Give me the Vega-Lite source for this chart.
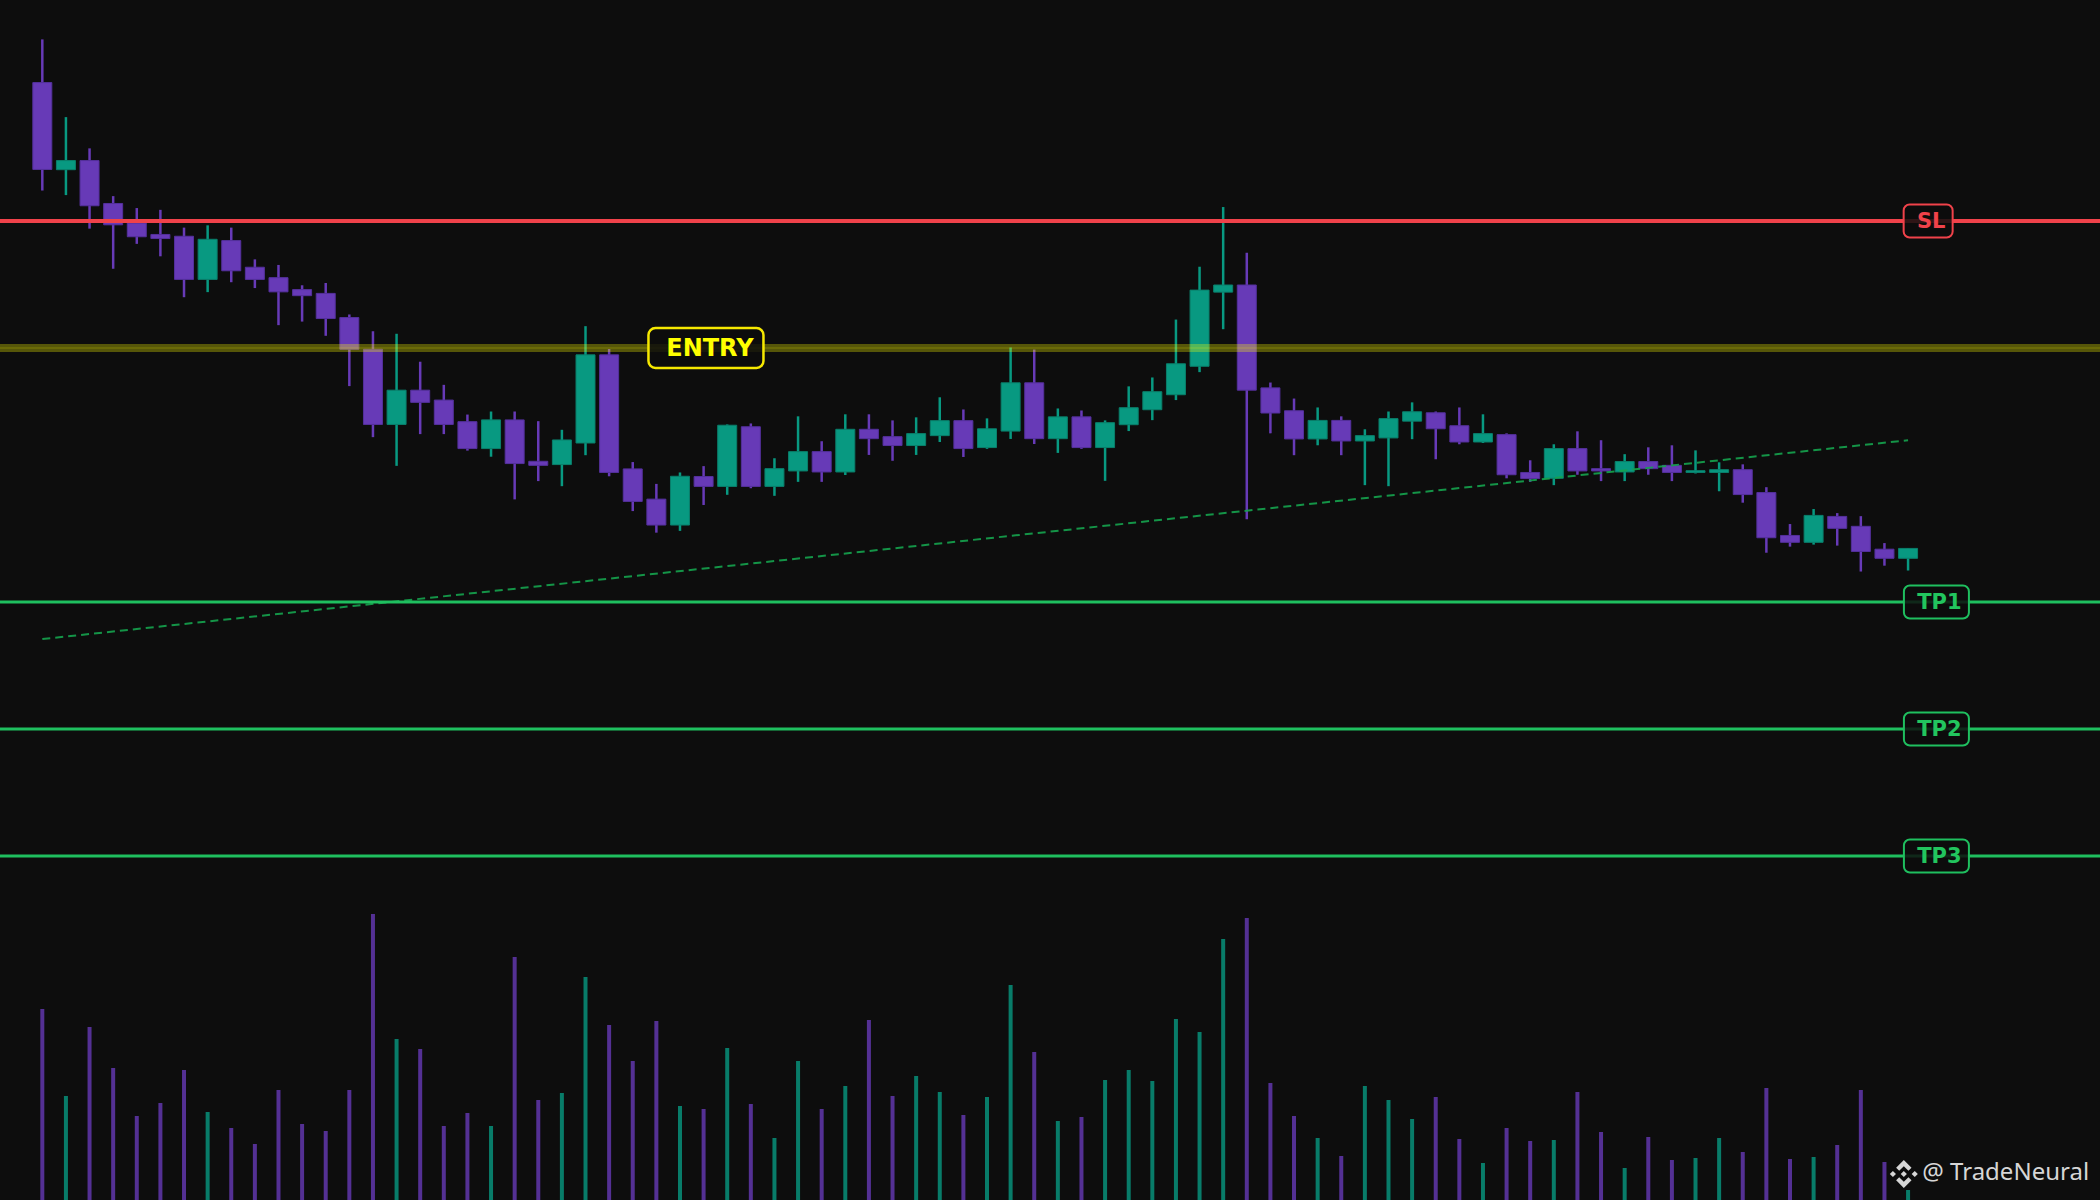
{
  "$schema": "https://vega.github.io/schema/vega-lite/v6.json",
  "width": 2100,
  "height": 1200,
  "autosize": {"type": "none"},
  "padding": 0,
  "background": "#0d0d0d",
  "config": {"view": {"stroke": null}},
  "datasets": {
    "candles": [
      {"i":0,"dir":"down","o":110.45,"h":112.15,"l":106.2,"c":107.03,"v":1910},
      {"i":1,"dir":"up","o":107.02,"h":109.09,"l":106.02,"c":107.38,"v":1040},
      {"i":2,"dir":"down","o":107.38,"h":107.86,"l":104.7,"c":105.6,"v":1730},
      {"i":3,"dir":"down","o":105.69,"h":105.98,"l":103.12,"c":104.85,"v":1320},
      {"i":4,"dir":"down","o":104.92,"h":105.51,"l":104.1,"c":104.38,"v":840},
      {"i":5,"dir":"down","o":104.47,"h":105.44,"l":103.61,"c":104.31,"v":970},
      {"i":6,"dir":"down","o":104.4,"h":104.74,"l":102.0,"c":102.7,"v":1300},
      {"i":7,"dir":"up","o":102.7,"h":104.83,"l":102.2,"c":104.28,"v":880},
      {"i":8,"dir":"down","o":104.23,"h":104.74,"l":102.59,"c":103.04,"v":720},
      {"i":9,"dir":"down","o":103.18,"h":103.49,"l":102.36,"c":102.7,"v":560},
      {"i":10,"dir":"down","o":102.77,"h":103.27,"l":100.9,"c":102.21,"v":1100},
      {"i":11,"dir":"down","o":102.3,"h":102.47,"l":101.04,"c":102.06,"v":760},
      {"i":12,"dir":"down","o":102.15,"h":102.56,"l":100.48,"c":101.16,"v":690},
      {"i":13,"dir":"down","o":101.2,"h":101.32,"l":98.5,"c":99.95,"v":1100},
      {"i":14,"dir":"down","o":99.95,"h":100.66,"l":96.49,"c":96.99,"v":2860},
      {"i":15,"dir":"up","o":96.99,"h":100.56,"l":95.36,"c":98.34,"v":1610},
      {"i":16,"dir":"down","o":98.34,"h":99.46,"l":96.61,"c":97.86,"v":1510},
      {"i":17,"dir":"down","o":97.95,"h":98.55,"l":96.61,"c":96.99,"v":740},
      {"i":18,"dir":"down","o":97.1,"h":97.38,"l":95.96,"c":96.04,"v":870},
      {"i":19,"dir":"up","o":96.04,"h":97.5,"l":95.72,"c":97.17,"v":740},
      {"i":20,"dir":"down","o":97.17,"h":97.5,"l":94.04,"c":95.45,"v":2430},
      {"i":21,"dir":"down","o":95.54,"h":97.12,"l":94.76,"c":95.38,"v":1000},
      {"i":22,"dir":"up","o":95.41,"h":96.78,"l":94.56,"c":96.38,"v":1070},
      {"i":23,"dir":"up","o":96.26,"h":100.86,"l":95.78,"c":99.73,"v":2230},
      {"i":24,"dir":"down","o":99.73,"h":99.96,"l":94.95,"c":95.1,"v":1750},
      {"i":25,"dir":"down","o":95.24,"h":95.51,"l":93.58,"c":93.96,"v":1390},
      {"i":26,"dir":"down","o":94.05,"h":94.65,"l":92.73,"c":93.03,"v":1790},
      {"i":27,"dir":"up","o":93.03,"h":95.1,"l":92.8,"c":94.95,"v":940},
      {"i":28,"dir":"down","o":94.94,"h":95.35,"l":93.82,"c":94.55,"v":910},
      {"i":29,"dir":"up","o":94.55,"h":96.99,"l":94.22,"c":96.96,"v":1520},
      {"i":30,"dir":"down","o":96.9,"h":97.03,"l":94.48,"c":94.55,"v":960},
      {"i":31,"dir":"up","o":94.55,"h":95.66,"l":94.18,"c":95.25,"v":620},
      {"i":32,"dir":"up","o":95.16,"h":97.31,"l":94.73,"c":95.92,"v":1390},
      {"i":33,"dir":"down","o":95.92,"h":96.33,"l":94.73,"c":95.12,"v":910},
      {"i":34,"dir":"up","o":95.12,"h":97.39,"l":95.0,"c":96.8,"v":1140},
      {"i":35,"dir":"down","o":96.8,"h":97.39,"l":95.79,"c":96.43,"v":1800},
      {"i":36,"dir":"down","o":96.51,"h":97.15,"l":95.56,"c":96.16,"v":1040},
      {"i":37,"dir":"up","o":96.16,"h":97.27,"l":95.79,"c":96.63,"v":1240},
      {"i":38,"dir":"up","o":96.55,"h":98.06,"l":96.3,"c":97.14,"v":1080},
      {"i":39,"dir":"down","o":97.14,"h":97.58,"l":95.71,"c":96.04,"v":850},
      {"i":40,"dir":"up","o":96.08,"h":97.23,"l":96.03,"c":96.82,"v":1030},
      {"i":41,"dir":"up","o":96.73,"h":100.02,"l":96.42,"c":98.63,"v":2150},
      {"i":42,"dir":"down","o":98.63,"h":99.94,"l":96.22,"c":96.43,"v":1480},
      {"i":43,"dir":"up","o":96.43,"h":97.62,"l":95.87,"c":97.29,"v":790},
      {"i":44,"dir":"down","o":97.29,"h":97.54,"l":96.03,"c":96.08,"v":830},
      {"i":45,"dir":"up","o":96.08,"h":97.15,"l":94.77,"c":97.06,"v":1200},
      {"i":46,"dir":"up","o":96.98,"h":98.49,"l":96.73,"c":97.65,"v":1300},
      {"i":47,"dir":"up","o":97.57,"h":98.84,"l":97.16,"c":98.28,"v":1190},
      {"i":48,"dir":"up","o":98.16,"h":101.12,"l":97.95,"c":99.38,"v":1810},
      {"i":49,"dir":"up","o":99.28,"h":103.2,"l":99.05,"c":102.28,"v":1680},
      {"i":50,"dir":"up","o":102.2,"h":105.55,"l":100.74,"c":102.48,"v":2610},
      {"i":51,"dir":"down","o":102.48,"h":103.75,"l":93.26,"c":98.34,"v":2820},
      {"i":52,"dir":"down","o":98.43,"h":98.64,"l":96.64,"c":97.44,"v":1170},
      {"i":53,"dir":"down","o":97.53,"h":98.01,"l":95.78,"c":96.42,"v":840},
      {"i":54,"dir":"up","o":96.42,"h":97.66,"l":96.17,"c":97.15,"v":620},
      {"i":55,"dir":"down","o":97.15,"h":97.31,"l":95.78,"c":96.34,"v":440},
      {"i":56,"dir":"up","o":96.34,"h":96.8,"l":94.6,"c":96.55,"v":1140},
      {"i":57,"dir":"up","o":96.46,"h":97.5,"l":94.56,"c":97.22,"v":1000},
      {"i":58,"dir":"up","o":97.12,"h":97.86,"l":96.41,"c":97.49,"v":810},
      {"i":59,"dir":"down","o":97.45,"h":97.5,"l":95.62,"c":96.82,"v":1030},
      {"i":60,"dir":"down","o":96.94,"h":97.66,"l":96.21,"c":96.3,"v":610},
      {"i":61,"dir":"up","o":96.3,"h":97.39,"l":96.26,"c":96.63,"v":370},
      {"i":62,"dir":"down","o":96.59,"h":96.64,"l":94.87,"c":95.01,"v":720},
      {"i":63,"dir":"down","o":95.1,"h":95.58,"l":94.73,"c":94.86,"v":590},
      {"i":64,"dir":"up","o":94.87,"h":96.21,"l":94.6,"c":96.04,"v":600},
      {"i":65,"dir":"down","o":96.04,"h":96.72,"l":95.01,"c":95.16,"v":1080},
      {"i":66,"dir":"down","o":95.25,"h":96.37,"l":94.76,"c":95.16,"v":680},
      {"i":67,"dir":"up","o":95.12,"h":95.82,"l":94.76,"c":95.53,"v":320},
      {"i":68,"dir":"down","o":95.53,"h":96.09,"l":95.01,"c":95.25,"v":630},
      {"i":69,"dir":"down","o":95.38,"h":96.17,"l":94.76,"c":95.1,"v":400},
      {"i":70,"dir":"up","o":95.1,"h":95.97,"l":95.06,"c":95.17,"v":420},
      {"i":71,"dir":"up","o":95.1,"h":95.5,"l":94.36,"c":95.21,"v":620},
      {"i":72,"dir":"down","o":95.21,"h":95.42,"l":93.91,"c":94.23,"v":480},
      {"i":73,"dir":"down","o":94.31,"h":94.52,"l":91.94,"c":92.53,"v":1120},
      {"i":74,"dir":"down","o":92.62,"h":93.07,"l":92.18,"c":92.35,"v":410},
      {"i":75,"dir":"up","o":92.35,"h":93.66,"l":92.26,"c":93.41,"v":430},
      {"i":76,"dir":"down","o":93.37,"h":93.5,"l":92.22,"c":92.9,"v":550},
      {"i":77,"dir":"down","o":92.98,"h":93.38,"l":91.2,"c":91.99,"v":1100},
      {"i":78,"dir":"down","o":92.08,"h":92.32,"l":91.43,"c":91.72,"v":380},
      {"i":79,"dir":"up","o":91.72,"h":92.11,"l":91.24,"c":92.11,"v":100}
    ],
    "trend": [{"i":0,"p":88.54},{"i":79,"p":96.37}],
    "levels": [
      {"name":"SL","kind":"sl","i":79.85,"p":105},
      {"name":"ENTRY","kind":"entry","i":28.1,"p":100},
      {"name":"TP1","kind":"tp","i":80.2,"p":90},
      {"name":"TP2","kind":"tp","i":80.2,"p":85},
      {"name":"TP3","kind":"tp","i":80.2,"p":80}
    ],
    "brand": [
      {"text":"@ TradeNeural","i":79.6,"p":67.52,"li":78.82,"lp":67.48}
    ]
  },
  "layer": [
    {
      "data": {"name": "candles"},
      "mark": {"type": "bar", "width": 4, "opacity": 0.8},
      "encoding": {
        "x": {"field": "i", "type": "quantitative", "scale": {"domain": [-1.58, 86.915], "nice": false, "zero": false}, "axis": null},
        "y": {"field": "v", "type": "quantitative", "scale": {"domain": [0, 12000], "nice": false}, "axis": null},
        "color": {"field": "dir", "type": "nominal", "scale": {"domain": ["up", "down"], "range": ["#089981", "#673ab7"]}, "legend": null}
      }
    },
    {
      "layer": [
        {
          "data": {"name": "candles"},
          "mark": {"type": "rule", "strokeWidth": 2.5},
          "encoding": {
            "x": {"field": "i", "type": "quantitative", "scale": {"domain": [-1.58, 86.915], "nice": false, "zero": false}, "axis": null},
            "y": {"field": "l", "type": "quantitative", "scale": {"domain": [66.457, 113.701], "nice": false, "zero": false}, "axis": null},
            "y2": {"field": "h"},
            "color": {"field": "dir", "type": "nominal", "scale": {"domain": ["up", "down"], "range": ["#089981", "#673ab7"]}, "legend": null}
          }
        },
        {
          "data": {"name": "candles"},
          "mark": {"type": "bar", "width": 19, "strokeWidth": 1},
          "encoding": {
            "x": {"field": "i", "type": "quantitative", "axis": null},
            "y": {"field": "o", "type": "quantitative", "axis": null},
            "y2": {"field": "c"},
            "color": {"field": "dir", "type": "nominal", "legend": null},
            "stroke": {"field": "dir", "type": "nominal", "scale": {"domain": ["up", "down"], "range": ["#0a7f6b", "#54309c"]}, "legend": null}
          }
        },
        {
          "data": {"name": "trend"},
          "mark": {"type": "line", "strokeDash": [8, 5], "strokeWidth": 2, "color": "#15a34e", "opacity": 0.9},
          "encoding": {
            "x": {"field": "i", "type": "quantitative", "axis": null},
            "y": {"field": "p", "type": "quantitative", "axis": null}
          }
        },
        {
          "data": {"name": "levels"},
          "transform": [{"filter": "datum.kind == 'entry'"}],
          "mark": {"type": "rule", "strokeWidth": 8, "color": "#ffff00", "opacity": 0.3},
          "encoding": {"y": {"field": "p", "type": "quantitative", "axis": null}}
        },
        {
          "data": {"name": "levels"},
          "transform": [{"filter": "datum.kind == 'entry'"}],
          "mark": {"type": "rule", "strokeWidth": 2, "color": "#ffff00", "opacity": 0.12},
          "encoding": {"y": {"field": "p", "type": "quantitative", "axis": null}}
        },
        {
          "data": {"name": "levels"},
          "transform": [{"filter": "datum.kind == 'sl'"}],
          "mark": {"type": "rule", "strokeWidth": 4, "color": "#f0424a"},
          "encoding": {"y": {"field": "p", "type": "quantitative", "axis": null}}
        },
        {
          "data": {"name": "levels"},
          "transform": [{"filter": "datum.kind == 'tp'"}],
          "mark": {"type": "rule", "strokeWidth": 3, "color": "#1fbf5f"},
          "encoding": {"y": {"field": "p", "type": "quantitative", "axis": null}}
        },
        {
          "data": {"name": "levels"},
          "transform": [{"filter": "datum.kind == 'sl'"}],
          "mark": {"type": "rect", "width": 49, "height": 33, "fill": "#0d0d0d", "fillOpacity": 0.85, "stroke": "#f0424a", "strokeWidth": 2, "cornerRadius": 6},
          "encoding": {
            "x": {"field": "i", "type": "quantitative", "axis": null},
            "y": {"field": "p", "type": "quantitative", "axis": null}
          }
        },
        {
          "data": {"name": "levels"},
          "transform": [{"filter": "datum.kind == 'tp'"}],
          "mark": {"type": "rect", "width": 65, "height": 33, "fill": "#0d0d0d", "fillOpacity": 0.85, "stroke": "#1fbf5f", "strokeWidth": 2, "cornerRadius": 6},
          "encoding": {
            "x": {"field": "i", "type": "quantitative", "axis": null},
            "y": {"field": "p", "type": "quantitative", "axis": null}
          }
        },
        {
          "data": {"name": "levels"},
          "transform": [{"filter": "datum.kind == 'entry'"}],
          "mark": {"type": "rect", "width": 115, "height": 40, "fill": "#0d0d0d", "fillOpacity": 0.85, "stroke": "#f5e800", "strokeWidth": 2.5, "cornerRadius": 7},
          "encoding": {
            "x": {"field": "i", "type": "quantitative", "axis": null},
            "y": {"field": "p", "type": "quantitative", "axis": null}
          }
        },
        {
          "data": {"name": "levels"},
          "transform": [{"filter": "datum.kind == 'sl'"}],
          "mark": {"type": "text", "font": "DejaVu Sans", "fontWeight": "bold", "fontSize": 21, "color": "#f0424a", "align": "center", "baseline": "middle", "dx": 3, "dy": 1},
          "encoding": {
            "x": {"field": "i", "type": "quantitative", "axis": null},
            "y": {"field": "p", "type": "quantitative", "axis": null},
            "text": {"field": "name"}
          }
        },
        {
          "data": {"name": "levels"},
          "transform": [{"filter": "datum.kind == 'tp'"}],
          "mark": {"type": "text", "font": "DejaVu Sans", "fontWeight": "bold", "fontSize": 21, "color": "#22c55e", "align": "center", "baseline": "middle", "dx": 3, "dy": 1},
          "encoding": {
            "x": {"field": "i", "type": "quantitative", "axis": null},
            "y": {"field": "p", "type": "quantitative", "axis": null},
            "text": {"field": "name"}
          }
        },
        {
          "data": {"name": "levels"},
          "transform": [{"filter": "datum.kind == 'entry'"}],
          "mark": {"type": "text", "font": "DejaVu Sans", "fontWeight": "bold", "fontSize": 24, "color": "#ffff00", "align": "center", "baseline": "middle", "dx": 4, "dy": 1},
          "encoding": {
            "x": {"field": "i", "type": "quantitative", "axis": null},
            "y": {"field": "p", "type": "quantitative", "axis": null},
            "text": {"field": "name"}
          }
        },
        {
          "data": {"name": "brand"},
          "mark": {"type": "text", "font": "Noto Sans", "fontSize": 24, "color": "#d6d6d6", "align": "left", "baseline": "middle"},
          "encoding": {
            "x": {"field": "i", "type": "quantitative", "axis": null},
            "y": {"field": "p", "type": "quantitative", "axis": null},
            "text": {"field": "text"}
          }
        },
        {
          "data": {"name": "brand"},
          "mark": {"type": "point", "filled": true, "opacity": 1, "size": 784, "color": "#d6d6d6", "shape": "M0,-1 L0.55,-0.45 L0.33,-0.23 L0,-0.56 L-0.33,-0.23 L-0.55,-0.45 Z M0,1 L0.55,0.45 L0.33,0.23 L0,0.56 L-0.33,0.23 L-0.55,0.45 Z M0,-0.22 L0.22,0 L0,0.22 L-0.22,0 Z M-1,0 L-0.78,-0.22 L-0.56,0 L-0.78,0.22 Z M1,0 L0.78,-0.22 L0.56,0 L0.78,0.22 Z"},
          "encoding": {
            "x": {"field": "li", "type": "quantitative", "axis": null},
            "y": {"field": "lp", "type": "quantitative", "axis": null}
          }
        }
      ]
    }
  ],
  "resolve": {"scale": {"y": "independent"}}
}
